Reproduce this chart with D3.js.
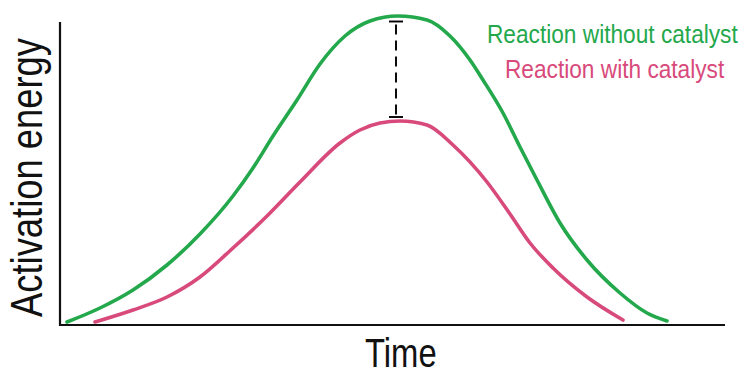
<!DOCTYPE html>
<html>
<head>
<meta charset="utf-8">
<title>Activation energy</title>
<style>
  body { margin: 0; background: #fff; }
  text { font-family: "Liberation Sans", Arial, sans-serif; }
</style>
</head>
<body>
<script src="https://cdn.jsdelivr.net/npm/d3@7"></script>
<script>
// values (time / energy in arbitrary units)
var withoutTime   = [7, 40, 73, 107, 140, 173, 193, 213, 237, 260, 285, 310, 338, 367, 390, 410, 423, 443, 460, 477, 500, 527, 560, 587, 607];
var withoutEnergy = [3, 17, 35, 60, 91, 129, 157, 189, 225, 261, 289, 304, 309, 305, 289, 265, 245, 212, 178, 145, 102, 65, 32, 12, 4];
var withTime      = [35, 73, 107, 140, 173, 207, 240, 280, 300, 320, 340, 367, 393, 427, 450, 470, 493, 527, 563];
var withEnergy    = [3, 15, 28, 48, 77, 109, 143, 182, 195, 202, 204, 200, 180, 143, 111, 82, 57, 28, 5];
var seriesNames = ["Reaction without catalyst", "Reaction with catalyst"];
var seriesColors = ["#24a84c", "#d84a7b"];
var peakTime = 336, peakHigh = 303.5, peakLow = 208;

var W = 750, H = 385;
var svg = d3.select("body").append("svg").attr("width", W).attr("height", H);

var x = d3.scaleLinear().domain([0, 665]).range([60, 725]);
var y = d3.scaleLinear().domain([0, 303]).range([325, 22]);

var line = d3.line()
  .x(function(d) { return x(d[0]); })
  .y(function(d) { return y(d[1]); })
  .curve(d3.curveMonotoneX);

var series = [d3.zip(withoutTime, withoutEnergy), d3.zip(withTime, withEnergy)];

svg.selectAll("path.curve")
  .data(series)
  .enter().append("path")
  .attr("class", "curve")
  .attr("d", line)
  .attr("fill", "none")
  .attr("stroke", function(d, i) { return seriesColors[i]; })
  .attr("stroke-width", 3.6)
  .attr("stroke-linecap", "round");

// axes (plain lines, no ticks)
svg.append("line").attr("x1", x(0)).attr("x2", x(0)).attr("y1", y(303)).attr("y2", y(0) + 1)
  .attr("stroke", "#111").attr("stroke-width", 2.2);
svg.append("line").attr("x1", x(0) - 1).attr("x2", x(665)).attr("y1", y(0)).attr("y2", y(0))
  .attr("stroke", "#111").attr("stroke-width", 2.2);

// energy difference marker
var g = svg.append("g").attr("stroke", "#000").attr("stroke-width", 1.9);
g.append("line").attr("x1", x(peakTime)).attr("x2", x(peakTime))
  .attr("y1", y(peakHigh)).attr("y2", y(peakLow))
  .attr("stroke-dasharray", "10,6").attr("stroke-dashoffset", -3);
g.append("line").attr("x1", x(peakTime) - 7).attr("x2", x(peakTime) + 7)
  .attr("y1", y(peakHigh)).attr("y2", y(peakHigh));
g.append("line").attr("x1", x(peakTime) - 7).attr("x2", x(peakTime) + 7)
  .attr("y1", y(peakLow)).attr("y2", y(peakLow));

// legend text, squeezed horizontally like a narrow face
var legendLeft = [487, 505];
svg.selectAll("text.legend")
  .data(seriesNames)
  .enter().append("text")
  .attr("class", "legend")
  .attr("transform", function(d, i) { return "translate(" + legendLeft[i] + "," + (43 + i * 35) + ") scale(0.907,1)"; })
  .attr("font-size", 25)
  .attr("fill", function(d, i) { return seriesColors[i]; })
  .text(function(d) { return d; });

// axis titles
svg.append("text")
  .attr("transform", "translate(365,367) scale(0.8,1)")
  .attr("font-size", 41)
  .attr("fill", "#111")
  .text("Time");

svg.append("text")
  .attr("transform", "translate(42,317) rotate(-90) scale(0.827,1)")
  .attr("font-size", 44)
  .attr("fill", "#111")
  .text("Activation energy");
</script>
</body>
</html>
